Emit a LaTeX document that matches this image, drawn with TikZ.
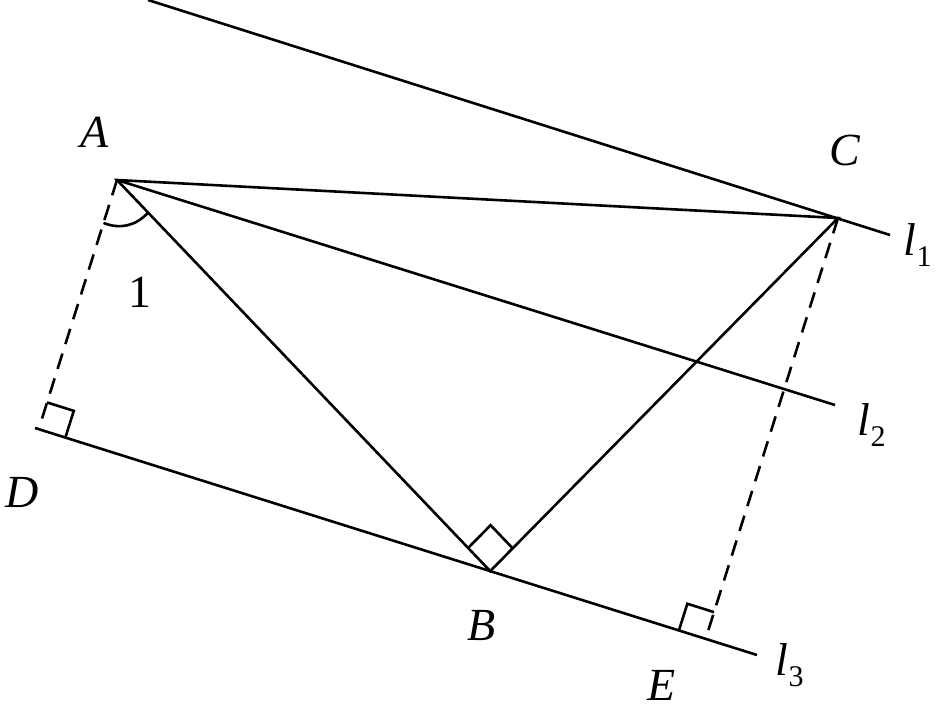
\documentclass[tikz,border=0pt]{standalone}
\usepackage{fontspec}
\setmainfont{Liberation Serif}
\usetikzlibrary{calc}
\begin{document}
\begin{tikzpicture}[x=1pt,y=-1pt,line width=2.6pt,
  lbl/.style={font=\fontsize{46}{50}\selectfont\itshape,inner sep=0pt}]
\useasboundingbox (0,0) rectangle (944,710);
\coordinate (A) at (117,180);
\coordinate (C) at (838,218);
\coordinate (P0) at (35,428);
\coordinate (P1) at (757,655);
\coordinate (L1a) at (148,0);
\coordinate (L1b) at (890,235);
\coordinate (L2b) at (835,405);
\coordinate (D) at ($(P0)!(A)!(P1)$);
\coordinate (E) at ($(P0)!(C)!(P1)$);
\coordinate (B) at ($(P0)!(490,572)!(P1)$);
\draw (L1a) -- (L1b);
\draw (A) -- (L2b);
\draw (P0) -- (P1);
\draw (A) -- (C) -- (B) -- cycle;
\draw[dashed,dash pattern=on 16pt off 10pt] (A) -- (D);
\draw[dashed,dash pattern=on 16pt off 10pt] (C) -- (E);
% right angle marks
\draw ($(D)!28pt!(A)$) -- ($(D)!28pt!(A)+(D)!28pt!(P1)-(D)$) -- ($(D)!28pt!(P1)$);
\draw ($(E)!28pt!(C)$) -- ($(E)!28pt!(C)+(E)!28pt!(P0)-(E)$) -- ($(E)!28pt!(P0)$);
\draw ($(B)!32pt!(A)$) -- ($(B)!32pt!(A)+(B)!32pt!(C)-(B)$) -- ($(B)!32pt!(C)$);
% angle 1
\draw ($(A)!45pt!(D)$) to[bend right=35] ($(A)!45pt!(B)$);
\node[lbl] (lA) at (95,132) {A};
\node[lbl] (lC) at (845,150) {C};
\node[lbl] (lB) at (482,625) {B};
\node[lbl] (lD) at (22,492) {D};
\node[lbl] (lE) at (662,685) {E};
\node[lbl,font=\fontsize{46}{50}\selectfont] (l1) at (140,292) {1};
\node[lbl] (ll1) at (918,245) {l\textsubscript{\upshape\fontsize{30}{30}\selectfont 1}};
\node[lbl] (ll2) at (872,425) {l\textsubscript{\upshape\fontsize{30}{30}\selectfont 2}};
\node[lbl] (ll3) at (790,665) {l\textsubscript{\upshape\fontsize{30}{30}\selectfont 3}};
\end{tikzpicture}
\end{document}
